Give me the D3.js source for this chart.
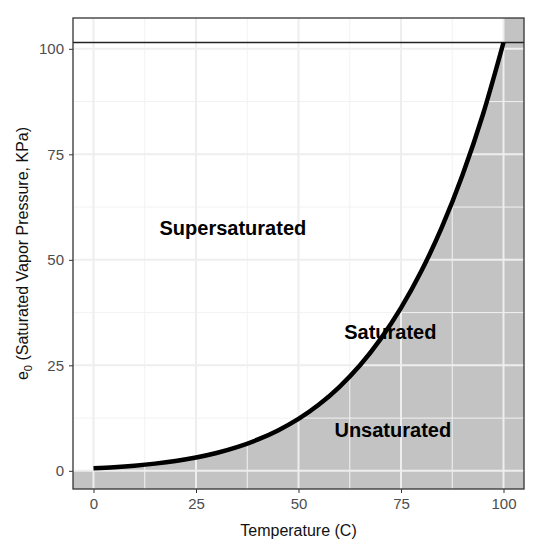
<!DOCTYPE html>
<html><head><meta charset="utf-8">
<script src="https://cdn.jsdelivr.net/npm/d3@7"></script>
<style>body{margin:0;background:#fff}</style>
</head><body><svg id="c"></svg>
<script>
// values
const temps = [0,5,10,15,20,25,30,35,40,45,50,55,60,65,70,75,80,85,90,95,100];
const pressure = [0.61,0.87,1.23,1.71,2.34,3.17,4.24,5.62,7.38,9.58,12.3,15.7,19.9,25.0,31.2,38.6,47.4,57.8,70.1,84.5,101.5];
const xTicks = [0,25,50,75,100];
const yTicks = [0,25,50,75,100];
const refLine = 101.5;
const labels = [
  {text:"Supersaturated", t:34, p:57.5},
  {text:"Saturated", t:72.4, p:33},
  {text:"Unsaturated", t:73, p:9.6}
];

const W = 541, H = 550;
const margin = {top:18, right:17, bottom:61, left:73};
const width = W - margin.left - margin.right;
const height = H - margin.top - margin.bottom;

const svg = d3.select('#c').attr('width', W).attr('height', H)
  .style('font-family', 'Liberation Sans, Arial, sans-serif');
const g = svg.append('g').attr('transform', `translate(${margin.left},${margin.top})`);

const x = d3.scaleLinear().domain([-5, 105]).range([0, width]);
const y = d3.scaleLinear().domain([-4.3, 107.3]).range([height, 0]);

const data = temps.map((t,i) => ({t, p: pressure[i]}));

// unsaturated region
const poly = [[x.range()[0], height], [x.range()[0], y(0)], [x(0), y(0)]]
  .concat(data.map(d => [x(d.t), y(d.p)]))
  .concat([[x(100), 0], [width, 0], [width, height]]);
g.append('path').attr('d', d3.line()(poly) + 'Z').attr('fill', '#c3c3c3');

// grid
const minorX = [12.5,37.5,62.5,87.5], minorY = [12.5,37.5,62.5,87.5];
g.selectAll('.mx').data(minorX).join('line').attr('x1', x).attr('x2', x).attr('y1', 0).attr('y2', height)
  .attr('stroke', '#f2f2f2').attr('stroke-width', 1);
g.selectAll('.my').data(minorY).join('line').attr('y1', y).attr('y2', y).attr('x1', 0).attr('x2', width)
  .attr('stroke', '#f2f2f2').attr('stroke-width', 1);
g.selectAll('.gx').data(xTicks).join('line').attr('x1', x).attr('x2', x).attr('y1', 0).attr('y2', height)
  .attr('stroke', '#eeeeee').attr('stroke-width', 2);
g.selectAll('.gy').data(yTicks).join('line').attr('y1', y).attr('y2', y).attr('x1', 0).attr('x2', width)
  .attr('stroke', '#eeeeee').attr('stroke-width', 2);

// reference line
g.append('line').attr('x1', 0).attr('x2', width).attr('y1', y(refLine)).attr('y2', y(refLine))
  .attr('stroke', '#222').attr('stroke-width', 1.3);

// curve
g.append('path').datum(data)
  .attr('d', d3.line().x(d => x(d.t)).y(d => y(d.p)).curve(d3.curveMonotoneX))
  .attr('fill', 'none').attr('stroke', '#000').attr('stroke-width', 4.5);

// labels
g.selectAll('.lab').data(labels).join('text')
  .attr('x', d => x(d.t)).attr('y', d => y(d.p)).attr('dy', '0.35em')
  .attr('text-anchor', 'middle').attr('font-weight', 'bold').attr('font-size', 20)
  .text(d => d.text);

// border
g.append('rect').attr('width', width).attr('height', height).attr('fill', 'none')
  .attr('stroke', '#333').attr('stroke-width', 1.3);

// axes
const ax = g.append('g').attr('transform', `translate(0,${height})`)
  .call(d3.axisBottom(x).tickValues(xTicks).tickSize(4).tickPadding(5));
const ay = g.append('g').call(d3.axisLeft(y).tickValues(yTicks).tickSize(4).tickPadding(5));
[ax, ay].forEach(a => {
  a.select('.domain').remove();
  a.selectAll('line').attr('stroke', '#333');
  a.selectAll('text').attr('fill', '#4d4d4d').attr('font-size', 15)
    .style('font-family', 'Liberation Sans, Arial, sans-serif');
});

svg.append('text').attr('x', margin.left + width / 2).attr('y', 536)
  .attr('text-anchor', 'middle').attr('font-size', 16).attr('fill', '#111').text('Temperature (C)');

const yl = svg.append('text').attr('transform', `translate(28,${margin.top + height / 2}) rotate(-90)`)
  .attr('text-anchor', 'middle').attr('font-size', 16).attr('fill', '#111');
yl.append('tspan').text('e');
yl.append('tspan').attr('font-size', 11).attr('dy', 4).text('0');
yl.append('tspan').attr('dy', -4).text(' (Saturated Vapor Pressure, KPa)');
</script></body></html>
